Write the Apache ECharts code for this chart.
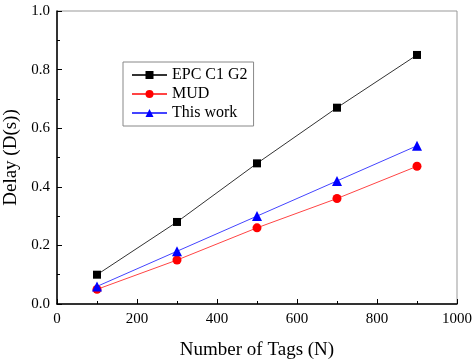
<!DOCTYPE html>
<html><head><meta charset="utf-8">
<script src="https://cdn.jsdelivr.net/npm/echarts@6/dist/echarts.min.js"></script>
<style>html,body{margin:0;padding:0;background:#fff}#c{width:474px;height:359px}</style>
</head><body><div id="c"></div>
<script>
const tags = [100, 300, 500, 700, 900];
const epc = [0.10, 0.28, 0.48, 0.67, 0.85];
const mud = [0.05, 0.15, 0.26, 0.36, 0.47];
const thisWork = [0.06, 0.18, 0.30, 0.42, 0.54];
const xTicks = [0, 200, 400, 600, 800, 1000];
const yTicks = [0.0, 0.2, 0.4, 0.6, 0.8, 1.0];
const pair = (xs, ys) => xs.map((x, i) => [x, ys[i]]);
const font = '"Liberation Serif", "DejaVu Serif", serif';
const chart = echarts.init(document.getElementById('c'));
chart.setOption({
  animation: false,
  textStyle: {fontFamily: font},
  grid: {left: 57, right: 17, top: 11, bottom: 55, containLabel: false, outerBoundsMode: 'none',
    show: true, borderColor: '#999', borderWidth: 1},
  legend: {
    orient: 'vertical', left: 123, top: 62, width: 130,
    backgroundColor: '#fff',
    borderColor: '#888', borderWidth: 1, borderRadius: 0,
    padding: [5, 6, 5, 8], itemGap: 3, itemWidth: 35, itemHeight: 10,
    textStyle: {fontFamily: font, fontSize: 16, color: '#000'},
    data: ['EPC C1 G2', 'MUD', 'This work']
  },
  xAxis: {
    type: 'value', min: 0, max: 1000, interval: 200,
    name: 'Number of Tags (N)', nameLocation: 'middle', nameGap: 37,
    nameTextStyle: {fontFamily: font, fontSize: 19, color: '#000'},
    axisLine: {lineStyle: {color: '#000', width: 1.5}},
    axisTick: {show: true, inside: true, length: 5, lineStyle: {color: '#000'}},
    minorTick: {show: true, splitNumber: 2, length: 3, lineStyle: {color: '#000'}},
    splitLine: {show: false},
    axisLabel: {fontFamily: font, fontSize: 15, color: '#000', margin: 8,
      formatter: v => xTicks.includes(v) ? String(v) : ''}
  },
  yAxis: {
    type: 'value', min: 0, max: 1.0, interval: 0.2,
    name: 'Delay (D(s))', nameLocation: 'middle', nameGap: 35,
    nameTextStyle: {fontFamily: font, fontSize: 19, color: '#000'},
    axisLine: {show: true, lineStyle: {color: '#000', width: 1.5}},
    axisTick: {show: true, inside: true, length: 5, lineStyle: {color: '#000'}},
    minorTick: {show: true, splitNumber: 2, length: 3, lineStyle: {color: '#000'}},
    splitLine: {show: false},
    axisLabel: {fontFamily: font, fontSize: 15, color: '#000', margin: 7,
      formatter: v => yTicks.some(t => Math.abs(t - v) < 1e-9) ? v.toFixed(1) : ''}
  },
  series: [
    {name: 'EPC C1 G2', type: 'line', data: pair(tags, epc), symbol: 'rect', symbolSize: 8,
      itemStyle: {color: '#000'}, lineStyle: {color: '#333', width: 1}},
    {name: 'MUD', type: 'line', data: pair(tags, mud), symbol: 'circle', symbolSize: 9,
      itemStyle: {color: '#f00'}, lineStyle: {color: '#f44', width: 1}},
    {name: 'This work', type: 'line', data: pair(tags, thisWork), symbol: 'triangle', symbolSize: 10,
      itemStyle: {color: '#00f'}, lineStyle: {color: '#44f', width: 1}}
  ]
});
</script></body></html>
